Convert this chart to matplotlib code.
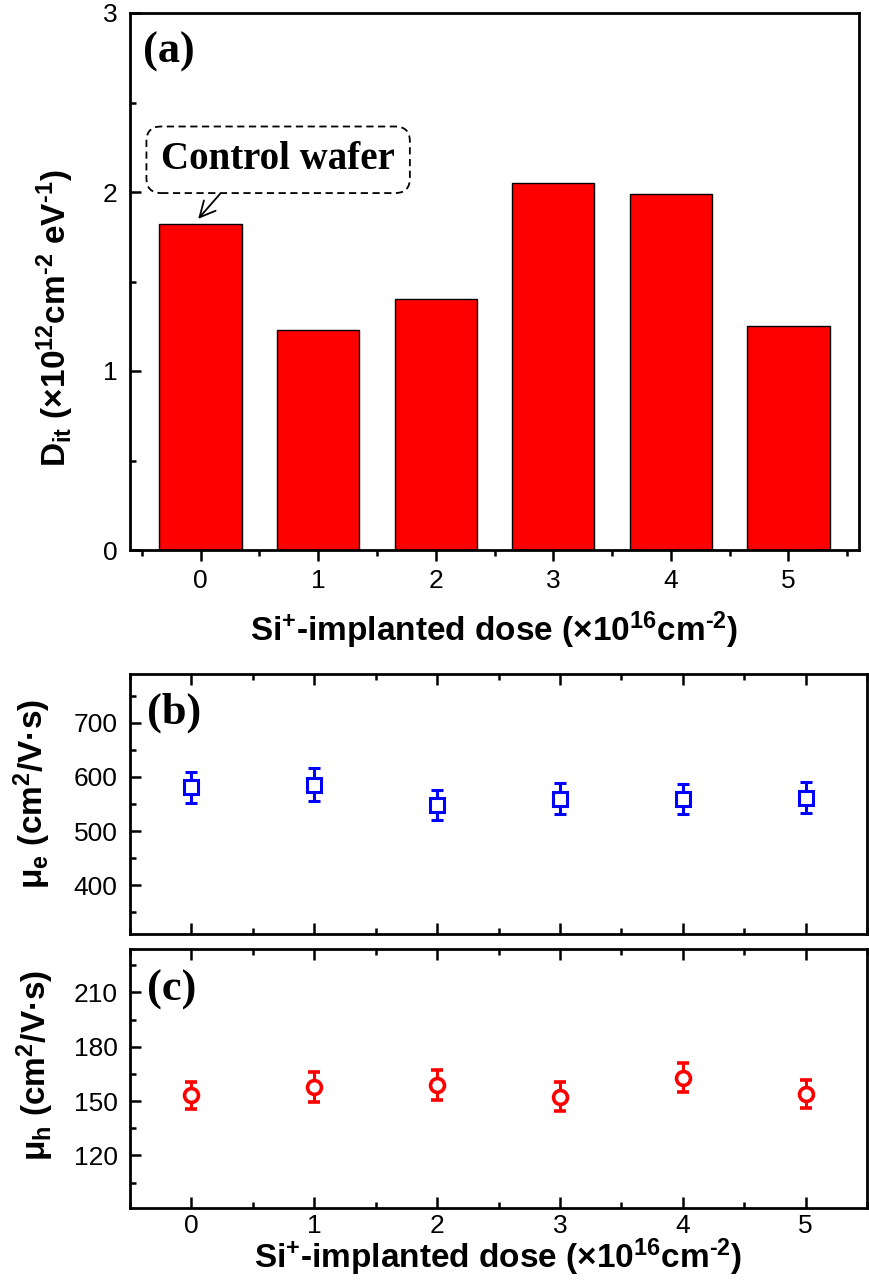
import numpy as np
import matplotlib.pyplot as plt
from matplotlib.ticker import MultipleLocator

plt.rcParams['font.family'] = 'Liberation Sans'
plt.rcParams['mathtext.fontset'] = 'custom'
plt.rcParams['mathtext.rm'] = 'Liberation Sans:bold'
plt.rcParams['mathtext.bf'] = 'Liberation Sans:bold'
plt.rcParams['mathtext.it'] = 'Liberation Sans:bold'
plt.rcParams['mathtext.default'] = 'bf'

# data
dose = [0, 1, 2, 3, 4, 5]
dit = [1.82, 1.23, 1.40, 2.05, 1.99, 1.25]
mu_e = [581, 586, 548, 560, 559, 562]
mu_e_err = [29, 30, 28, 28, 28, 28]
mu_h = [153.2, 158.0, 159.0, 152.5, 162.9, 153.8]
mu_h_err = [7.6, 8.2, 8.2, 7.8, 8.1, 7.8]

HY = '\u2010'  # short hyphen for the exponents
xlab = 'Si$^{+}$-implanted dose (×10$^{16}$cm$^{' + HY + '2}$)'

W, H = 869, 1280
fig = plt.figure(figsize=(W / 100, H / 100), dpi=100)

def box(l, t, r, b):
    return [l / W, 1 - b / H, (r - l) / W, (b - t) / H]

ax1 = fig.add_axes(box(130, 13, 859, 550))
ax2 = fig.add_axes(box(130, 674, 867, 934))
ax3 = fig.add_axes(box(130, 949, 867, 1208))

tick_fs = 19
label_fs = 24
panel_font = dict(family='Liberation Serif', fontweight='bold', fontsize=32)

for ax in (ax1, ax2, ax3):
    for s in ax.spines.values():
        s.set_linewidth(2)
    ax.xaxis.set_major_locator(MultipleLocator(1))
    ax.xaxis.set_minor_locator(MultipleLocator(0.5))
    ax.tick_params(which='major', length=8, width=1.8, labelsize=tick_fs)
    ax.tick_params(which='minor', length=4.5, width=1.8)
    ax.tick_params(axis='y', which='both', direction='in', right=False, pad=9)

# (a) interface trap density
ax1.bar(dose, dit, width=0.7, color='#ff0000', edgecolor='black', linewidth=1)
ax1.set_xlim(-0.6, 5.6)
ax1.set_ylim(0, 3)
ax1.yaxis.set_major_locator(MultipleLocator(1))
ax1.yaxis.set_minor_locator(MultipleLocator(0.5))
ax1.tick_params(axis='x', which='both', direction='out', top=False, pad=6)
ax1.set_xlabel(xlab, fontsize=label_fs, fontweight='bold')
ax1.xaxis.set_label_coords(0.5, -0.149)
ax1.xaxis.label.set_va('center')
ax1.set_ylabel('D$_{it}$ (×10$^{12}$cm$^{' + HY + '2}$ eV$^{' + HY + '1}$)',
               fontsize=label_fs, fontweight='bold')
ax1.yaxis.set_label_coords(-0.103, 0.432)
ax1.yaxis.label.set_va('center')
ax1.text(0.018, 0.965, '(a)', transform=ax1.transAxes, ha='left', va='top', **panel_font)
ax1.annotate('Control wafer', xy=(-0.02, 1.85), xytext=(0.66, 2.18),
             ha='center', va='center', family='Liberation Serif',
             fontweight='bold', fontsize=28,
             bbox=dict(boxstyle='round,pad=0.38', fc='white', ec='black',
                       ls=(0, (4, 2.5)), lw=1.3),
             arrowprops=dict(arrowstyle='->', color='black', lw=1.3,
                             relpos=(0.31, 0), shrinkA=0, shrinkB=0))

# (b) electron mobility
ax2.errorbar(dose, mu_e, yerr=mu_e_err, fmt='s', color='#0000ff', mfc='white',
             mec='#0000ff', ms=10, mew=2.2, elinewidth=2.2, capsize=4.5, capthick=2.2)
ax2.set_xlim(-0.5, 5.5)
ax2.set_ylim(310, 790)
ax2.yaxis.set_minor_locator(MultipleLocator(50))
ax2.set_yticks([400, 500, 600, 700])
ax2.tick_params(axis='x', which='both', direction='in', top=True, labelbottom=False)
ax2.set_ylabel('μ$_{e}$ (cm$^{2}$/V·s)', fontsize=label_fs, fontweight='bold')
ax2.yaxis.set_label_coords(-0.132, 0.54)
ax2.yaxis.label.set_va('center')
ax2.text(0.023, 0.93, '(b)', transform=ax2.transAxes, ha='left', va='top', **panel_font)

# (c) hole mobility
ax3.errorbar(dose, mu_h, yerr=mu_h_err, fmt='o', color='#ff0000', mfc='white',
             mec='#ff0000', ms=10, mew=2.6, elinewidth=2.2, capsize=4.5, capthick=2.2)
ax3.set_xlim(-0.5, 5.5)
ax3.set_ylim(91, 234)
ax3.yaxis.set_minor_locator(MultipleLocator(15))
ax3.set_yticks([120, 150, 180, 210])
ax3.tick_params(axis='x', which='both', direction='in', top=True, pad=4)
ax3.set_xlabel(xlab, fontsize=label_fs, fontweight='bold')
ax3.xaxis.set_label_coords(0.5, -0.19)
ax3.xaxis.label.set_va('center')
ax3.set_ylabel('μ$_{h}$ (cm$^{2}$/V·s)', fontsize=label_fs, fontweight='bold')
ax3.yaxis.set_label_coords(-0.129, 0.552)
ax3.yaxis.label.set_va('center')
ax3.text(0.023, 0.92, '(c)', transform=ax3.transAxes, ha='left', va='top', **panel_font)

fig.savefig('out.png', dpi=100)
